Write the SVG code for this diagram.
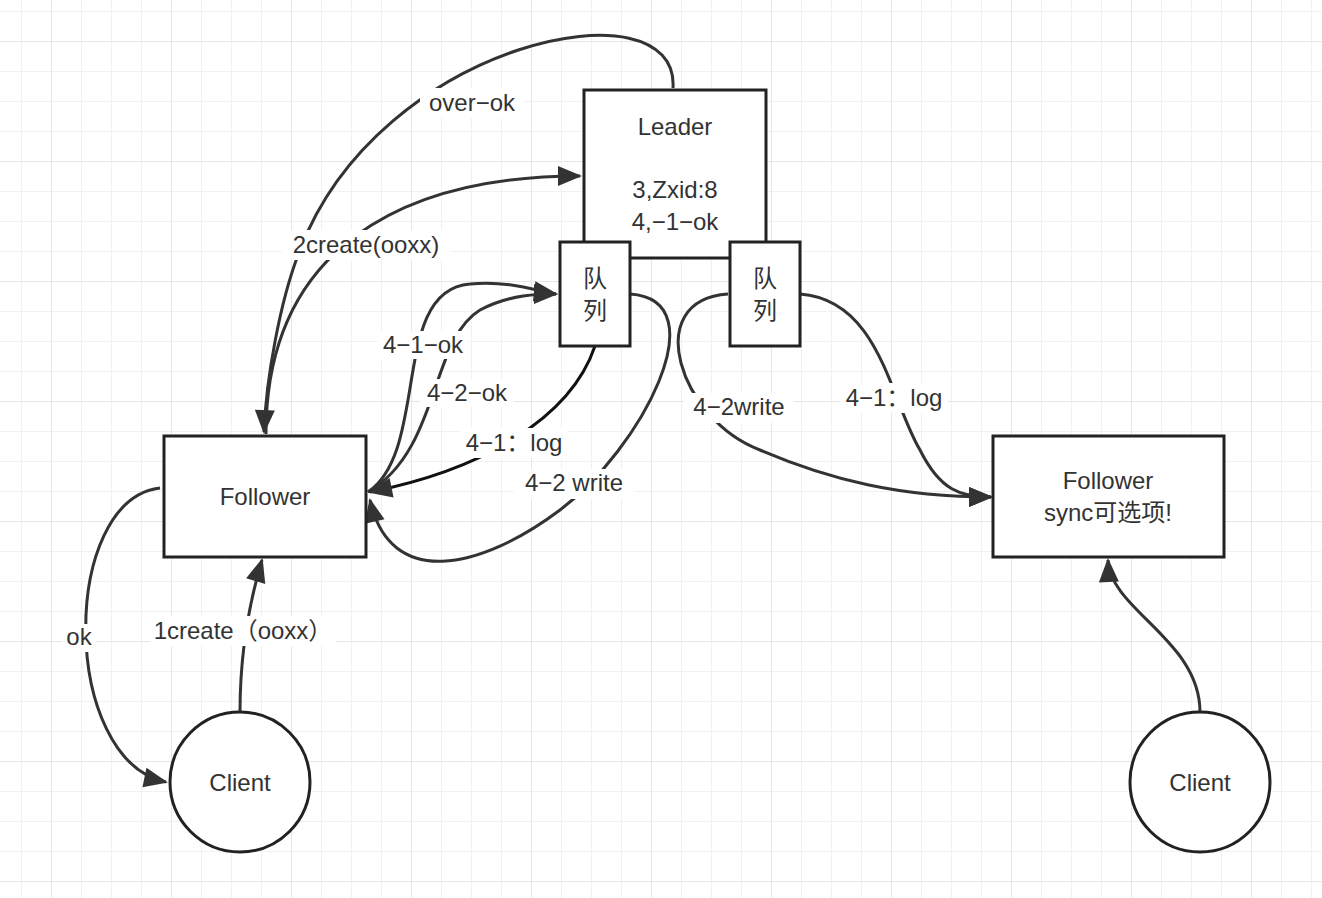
<svg xmlns="http://www.w3.org/2000/svg" width="1322" height="898" viewBox="0 0 1322 898">
<defs>
<pattern id="g" x="21" y="11" width="30" height="30" patternUnits="userSpaceOnUse"><path d="M0 0V30M0 0H30" stroke="#f1f1f1" stroke-width="2" fill="none"/></pattern>
<pattern id="G" x="51" y="41" width="120" height="120" patternUnits="userSpaceOnUse"><path d="M0 0V120M0 0H120" stroke="#e6e6e6" stroke-width="2" fill="none"/></pattern>
<marker id="a" viewBox="-24 -11 26 22" refX="0" refY="0" markerWidth="26" markerHeight="22" markerUnits="userSpaceOnUse" orient="auto"><path d="M2 0 L-22 -10 L-22 10 Z" fill="#333"/></marker>
<style>
.n{fill:#fff;stroke:#222;stroke-width:3}
.c{fill:none;stroke:#333;stroke-width:3;marker-end:url(#a)}
text{font-family:"Liberation Sans","Noto Sans CJK SC",sans-serif;font-size:24px;fill:#333;text-anchor:middle}
.l{fill:#fff}
</style>
</defs>
<rect width="1322" height="898" fill="#fff"/>
<rect width="1322" height="898" fill="url(#g)"/>
<rect width="1322" height="898" fill="url(#G)"/>
<g id="connectors">
<path class="c" d="M673,88 C680,-20 380,40 300,250 C280,300 266,380 264,432"/>
<path class="c" d="M266,434 C266,250 400,176 580,176"/>
<path class="c" d="M368,492 C430,450 390,290 470,284 C510,280 540,292 556,294"/>
<path class="c" d="M368,492 C440,450 430,340 480,310 C510,294 540,294 556,294"/>
<path class="c" style="stroke:#111" d="M595,346 C570,420 480,470 370,492"/>
<path class="c" d="M630,294 C720,300 640,450 560,510 C480,570 390,590 370,500"/>
<path class="c" d="M728,294 C640,300 680,420 760,450 C830,480 900,497 991,497"/>
<path class="c" d="M800,294 C880,300 890,400 920,450 C940,490 960,497 991,497"/>
<path class="c" d="M160,488 C60,500 60,760 166,782"/>
<path class="c" d="M240,712 C240,650 250,600 262,560"/>
<path class="c" d="M1200,712 C1200,640 1110,610 1108,560"/>
</g>
<g id="labels">
<rect class="l" x="420" y="88" width="104" height="30"/><text x="472" y="111">over−ok</text>
<rect class="l" x="282" y="230" width="168" height="30"/><text x="366" y="253">2create(ooxx)</text>
<rect class="l" x="378" y="331" width="90" height="28"/><text x="423" y="353">4−1−ok</text>
<rect class="l" x="420" y="379" width="94" height="28"/><text x="467" y="401">4−2−ok</text>
<rect class="l" x="460" y="428" width="108" height="30"/><text x="514" y="451">4−1：log</text>
<rect class="l" x="514" y="469" width="120" height="30"/><text x="574" y="491">4−2 write</text>
<rect class="l" x="684" y="393" width="110" height="30"/><text x="739" y="415">4−2write</text>
<rect class="l" x="840" y="383" width="108" height="30"/><text x="894" y="406">4−1：log</text>
<rect class="l" x="62" y="624" width="34" height="28"/><text x="79" y="645">ok</text>
<rect class="l" x="150" y="616" width="186" height="30"/><text x="243" y="639">1create（ooxx）</text>
</g>
<g id="leader"><rect class="n" x="584" y="90" width="182" height="168"/><text x="675" y="135">Leader</text><text x="675" y="198">3,Zxid:8</text><text x="675" y="230">4,−1−ok</text></g>
<g id="queue1"><rect class="n" x="560" y="242" width="70" height="104"/><text x="595" y="287">队</text><text x="595" y="319">列</text></g>
<g id="queue2"><rect class="n" x="730" y="242" width="70" height="104"/><text x="765" y="287">队</text><text x="765" y="319">列</text></g>
<g id="follower1"><rect class="n" x="164" y="436" width="202" height="121"/><text x="265" y="505">Follower</text></g>
<g id="follower2"><rect class="n" x="993" y="436" width="231" height="121"/><text x="1108" y="489">Follower</text><text x="1108" y="521">sync可选项!</text></g>
<g id="client1"><circle class="n" cx="240" cy="782" r="70"/><text x="240" y="791">Client</text></g>
<g id="client2"><circle class="n" cx="1200" cy="782" r="70"/><text x="1200" y="791">Client</text></g>
</svg>
